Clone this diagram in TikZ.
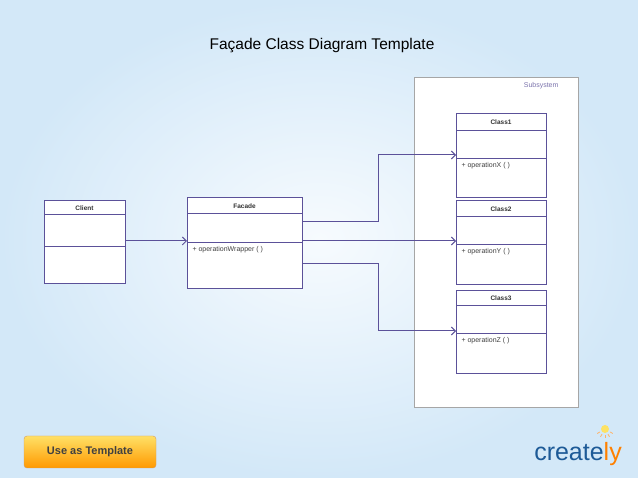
\documentclass[tikz,border=0pt]{standalone}
\usepackage{fontspec}
\setmainfont{Liberation Sans}
\usetikzlibrary{arrows.meta}
\definecolor{uml}{HTML}{5B5199}
\definecolor{bgA}{HTML}{D3E8F8}
\definecolor{bgB}{HTML}{F7FBFE}
\definecolor{logoblue}{HTML}{1D5A97}
\tikzset{
  box/.style={draw=uml, fill=white, line width=1pt},
  frame/.style={draw=gray!70, fill=white, line width=0.6pt},
  hdr/.style={font=\fontsize{6.5}{7}\selectfont\bfseries, text=black!80},
  op/.style={font=\fontsize{7}{8}\selectfont, text=black!75, anchor=west},
  conn/.style={draw=uml, line width=1pt, -{Straight Barb[length=4pt,width=8pt]}},
}
\newcommand{\umlclass}[8]{% name, x1, y1, x2, yh, ya, y2, op
  \draw[box] (#2,#3) rectangle (#4,#7);
  \draw[uml, line width=1pt] (#2,#5) -- (#4,#5) (#2,#6) -- (#4,#6);
  \node[hdr] (#1) at ({(#2+#4)/2},{(#3+#5)/2}) {#1};
  \node[op] at (#2+2,#6+7) {#8};
}
\begin{document}
\begin{tikzpicture}[x=1pt,y=-1pt]
\shade[inner color=bgB, outer color=bgA] (0,0) rectangle (638,478);
\useasboundingbox (0,0) rectangle (638,478);
\node[font=\fontsize{15.5}{18}\selectfont] (title) at (322,46) {Façade Class Diagram Template};
\draw[frame] (414,77) rectangle (578,407);
\node[font=\fontsize{7}{8}\selectfont, text=uml!80, anchor=east] (sub) at (562,86) {Subsystem};
\umlclass{Client}{44}{201}{125}{215}{247}{284}{}
\umlclass{Facade}{187}{198}{302}{214}{243}{289}{+ operationWrapper ( )}
\umlclass{Class1}{456}{114}{546}{131}{159}{198}{+ operationX ( )}
\umlclass{Class2}{456}{201}{546}{217}{245}{285}{+ operationY ( )}
\umlclass{Class3}{456}{291}{546}{306}{334}{374}{+ operationZ ( )}
\coordinate (cin) at (125,241);
\coordinate (fin) at (187,241);
\draw[conn] (cin) -- (fin);
\coordinate (f1) at (302,222); \coordinate (c1) at (456,155);
\coordinate (f2) at (302,241); \coordinate (c2) at (456,241);
\coordinate (f3) at (302,264); \coordinate (c3) at (456,331);
\draw[conn] (f1) -- (378,222) -- (378,155) -- (c1);
\draw[conn] (f2) -- (c2);
\draw[conn] (f3) -- (378,264) -- (378,331) -- (c3);
% button
\shade[top color=orange!40!yellow!60, bottom color=orange!80!yellow, rounded corners=3pt, draw=orange!70!black!60] (24,436) rectangle (156,468);
\node[font=\fontsize{11}{12}\selectfont\bfseries, text=black!75] (btn) at (90,452) {Use as Template};
% logo
\node[font=\fontsize{25}{27}\selectfont, text=logoblue, anchor=east, inner sep=0pt] (logo) at (622,454) {create\textcolor{orange}{ly}};
\fill[yellow!70!orange!60] (605,429) circle (4pt);
\foreach \a in {30,60,90,120,150}
  \draw[orange!60, line width=0.8pt] (605,429) ++(\a:-6pt) -- ++(\a:-3pt);
\end{tikzpicture}
\end{document}
